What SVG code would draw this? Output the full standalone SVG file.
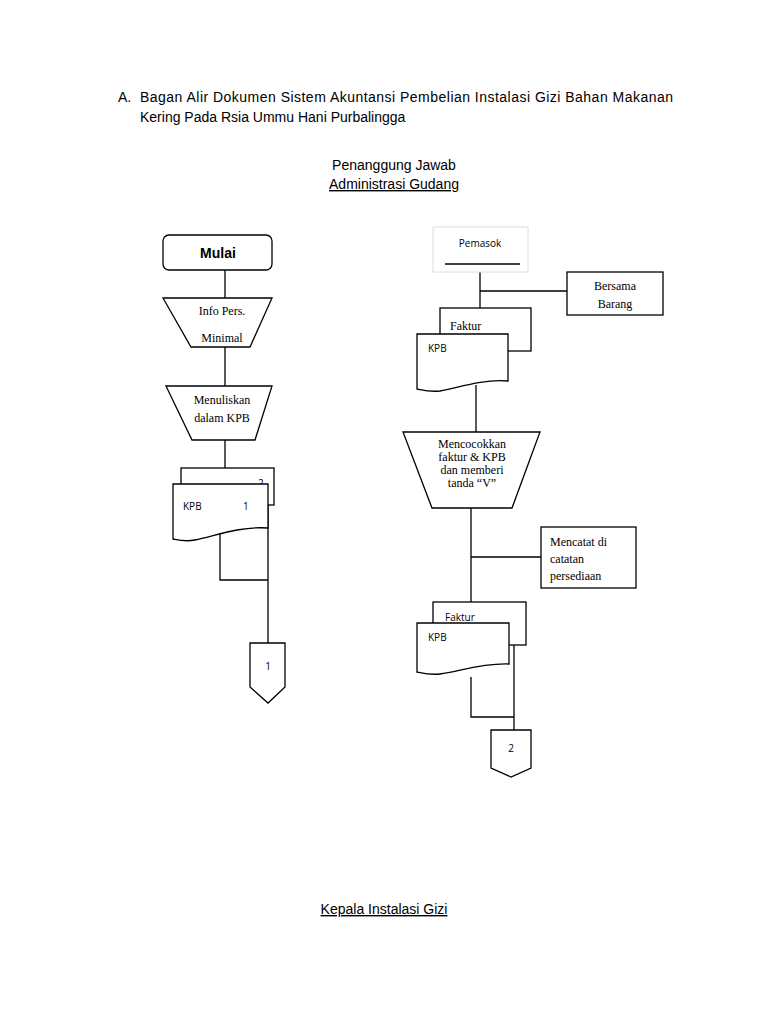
<svg xmlns="http://www.w3.org/2000/svg" width="768" height="1024" viewBox="0 0 768 1024">
<style>
.s{fill:#fff;stroke:#000;stroke-width:1.3}
.l{fill:none;stroke:#000;stroke-width:1.3}
.h{font-family:"Liberation Sans",Arial,sans-serif;font-size:14px;fill:#000}
.t{font-family:"Liberation Serif","Times New Roman",serif;font-size:12px;fill:#000}
.a{font-family:"Open Sans","Liberation Sans",sans-serif;font-size:10px;fill:#000}
</style>
<rect width="768" height="1024" fill="#fff"/>
<g id="title">
<text class="h" x="118" y="102">A.</text>
<text class="h" x="140" y="102" textLength="533" lengthAdjust="spacing">Bagan Alir Dokumen Sistem Akuntansi Pembelian Instalasi Gizi Bahan Makanan</text>
<text class="h" x="140" y="122">Kering Pada Rsia Ummu Hani Purbalingga</text>
<text class="h" x="394" y="170" text-anchor="middle">Penanggung Jawab</text>
<text class="h" x="394" y="189" text-anchor="middle" text-decoration="underline">Administrasi Gudang</text>
<text class="h" x="384" y="914" text-anchor="middle" text-decoration="underline">Kepala Instalasi Gizi</text>
</g>
<g id="connectors">
<path class="l" d="M225 270V298M225 347V386M225 440V468M220 533V580H268M268 505V643"/>
<path class="l" d="M480 272V308M480 291H567M476 385V432M471 508V602M471 557H541M471 677V717H514M514 643V730"/>
</g>
<g id="mulai"><rect class="s" x="163" y="235" width="109" height="35" rx="6"/><text class="h" x="218" y="258" text-anchor="middle" font-weight="bold" font-size="12">Mulai</text></g>
<g id="info"><path class="s" d="M163 298H272L250 347H191Z"/><text class="t" x="222" y="315" text-anchor="middle">Info Pers.</text><text class="t" x="222" y="342" text-anchor="middle">Minimal</text></g>
<g id="menulis"><path class="s" d="M166 386H272L255 440H192Z"/><text class="t" x="222" y="404" text-anchor="middle" font-size="13">Menuliskan</text><text class="t" x="222" y="422" text-anchor="middle" font-size="13">dalam KPB</text></g>
<g id="kpb1"><rect class="s" x="181" y="468" width="93" height="37"/><text class="a" x="258" y="487">2</text>
<path class="s" d="M173 484H268V528C240 526 215 536 195 540C185 542 178 540 173 539Z"/><text class="a" x="183" y="510">KPB</text><text class="a" x="243" y="510">1</text></g>
<g id="c1"><path class="s" d="M250 643H285V687L268 703L250 687Z"/><text class="a" x="268" y="670" text-anchor="middle">1</text></g>
<g id="pemasok"><rect x="433" y="227" width="95" height="45" fill="#fff" stroke="#ddd"/><line class="l" x1="445" y1="264" x2="520" y2="264"/><text class="a" x="480" y="247" text-anchor="middle" font-size="11">Pemasok</text></g>
<g id="bersama"><rect class="s" x="567" y="272" width="96" height="43"/><text class="t" x="615" y="290" text-anchor="middle">Bersama</text><text class="t" x="615" y="308" text-anchor="middle">Barang</text></g>
<g id="faktur1"><rect class="s" x="440" y="308" width="91" height="43"/><text class="t" x="450" y="330" font-size="14">Faktur</text>
<path class="s" d="M417 334H508V381C480 379 458 388 440 391C430 392 422 390 417 389Z"/><text class="a" x="428" y="352">KPB</text></g>
<g id="cocok"><path class="s" d="M403 432H540L512 508H432Z"/><text class="t" x="472" y="448" text-anchor="middle" font-size="10">Mencocokkan</text><text class="t" x="472" y="461" text-anchor="middle" font-size="10">faktur &amp; KPB</text><text class="t" x="472" y="474" text-anchor="middle" font-size="10">dan memberi</text><text class="t" x="472" y="487" text-anchor="middle" font-size="10">tanda “V”</text></g>
<g id="mencatat"><rect class="s" x="541" y="527" width="95" height="61"/><text class="t" x="550" y="546">Mencatat di</text><text class="t" x="550" y="563">catatan</text><text class="t" x="550" y="580">persediaan</text></g>
<g id="faktur2"><rect class="s" x="433" y="602" width="93" height="43"/><text class="a" x="445" y="621" font-size="11">Faktur</text>
<path class="s" d="M417 623H509V664C480 663 458 672 440 674C430 675 422 673 417 672Z"/><text class="a" x="428" y="641">KPB</text></g>
<g id="c2"><path class="s" d="M491 730H531V768L511 777L491 768Z"/><text class="a" x="511" y="752" text-anchor="middle">2</text></g>
</svg>
